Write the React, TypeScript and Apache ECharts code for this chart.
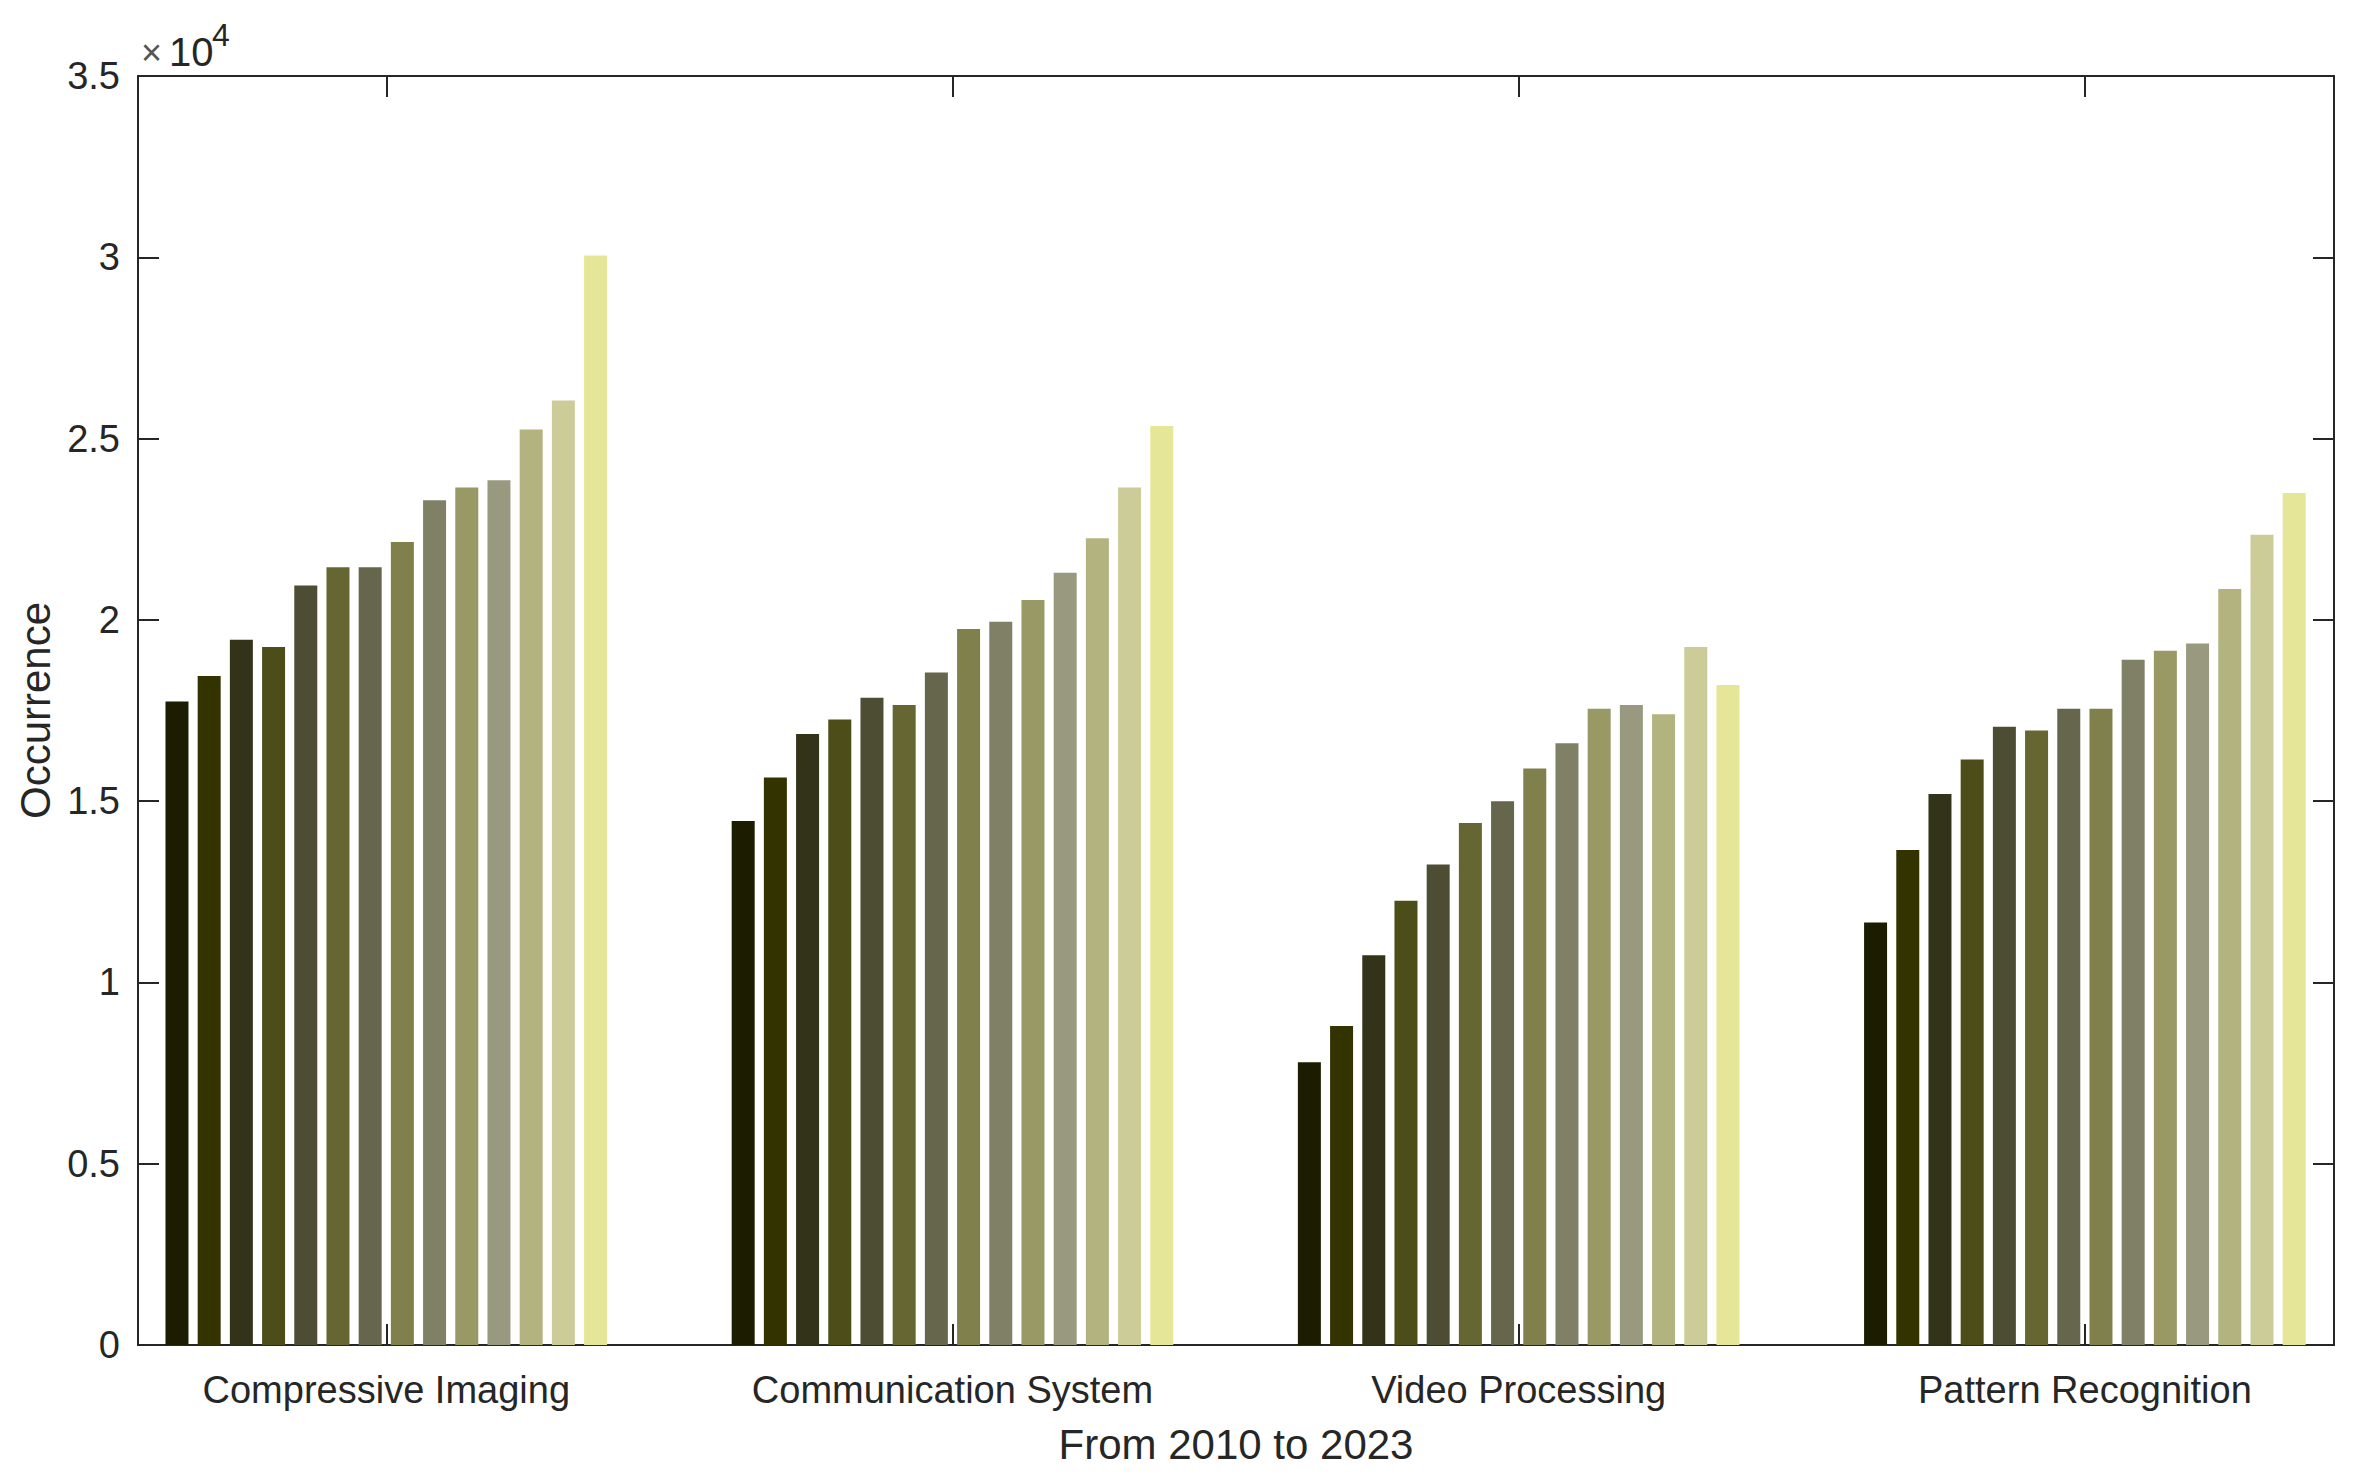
import React, { useEffect, useRef } from "react";
import * as echarts from "echarts";

const categories = ["Compressive Imaging", "Communication System", "Video Processing", "Pattern Recognition"];
const years = ["2010", "2011", "2012", "2013", "2014", "2015", "2016", "2017", "2018", "2019", "2020", "2021", "2022", "2023"];
const compressiveImaging = [17750, 18450, 19450, 19250, 20950, 21450, 21450, 22150, 23300, 23650, 23850, 25250, 26050, 30050];
const communicationSystem = [14450, 15650, 16850, 17250, 17850, 17650, 18550, 19750, 19950, 20550, 21300, 22250, 23650, 25350];
const videoProcessing = [7800, 8800, 10750, 12250, 13250, 14400, 15000, 15900, 16600, 17550, 17650, 17400, 19250, 18200];
const patternRecognition = [11650, 13650, 15200, 16150, 17050, 16950, 17550, 17550, 18900, 19150, 19350, 20850, 22350, 23500];
const colors = ["#1c1c00", "#333300", "#33331a", "#4d4d1a", "#4d4d33", "#666633", "#66664d", "#80804d", "#808066", "#999966", "#99997f", "#b3b380", "#cccc99", "#e6e699"];

const groups = [compressiveImaging, communicationSystem, videoProcessing, patternRecognition];
const FONT = "'Liberation Sans', Arial, Helvetica, sans-serif";
const TXT = "#262626";

export default function App() {
  const ref = useRef<HTMLDivElement>(null);
  useEffect(() => {
    if (!ref.current) return;
    const chart = echarts.init(ref.current, null, { renderer: "svg" });
    const positions = categories.map((_, i) => i + 1);
    const axisLine = { show: true, onZero: false, lineStyle: { color: TXT, width: 2 } };
    const tickStyle = { color: TXT, width: 2 };
    const series = years.map((y, s) => ({
      type: "bar",
      name: y,
      xAxisIndex: 0,
      yAxisIndex: 0,
      barWidth: 23,
      barGap: "40%",
      itemStyle: { color: colors[s] },
      data: positions.map((p, g) => [p, groups[g][s]]),
    }));
    chart.setOption({
      animation: false,
      backgroundColor: "#ffffff",
      textStyle: { fontFamily: FONT },
      grid: { left: 138, right: 27, top: 76, bottom: 137, containLabel: false },
      xAxis: [
        {
          type: "value",
          min: 0.5615,
          max: 4.44,
          position: "bottom",
          axisLine,
          splitLine: { show: false },
          axisTick: { show: true, inside: true, length: 21, customValues: positions, lineStyle: tickStyle },
          axisLabel: {
            show: true,
            customValues: positions,
            formatter: (v: number) => categories[Math.round(v) - 1] ?? "",
            color: TXT,
            fontSize: 38,
            fontFamily: FONT,
            margin: 26,
          },
          name: "From 2010 to 2023",
          nameLocation: "middle",
          nameGap: 78,
          nameTextStyle: { color: TXT, fontSize: 42, fontFamily: FONT },
        },
        {
          type: "value",
          min: 0.5615,
          max: 4.44,
          position: "top",
          axisLine,
          splitLine: { show: false },
          axisTick: { show: true, inside: true, length: 21, customValues: positions, lineStyle: tickStyle },
          axisLabel: { show: false },
        },
      ],
      yAxis: [
        {
          type: "value",
          min: 0,
          max: 35000,
          interval: 5000,
          position: "left",
          axisLine,
          splitLine: { show: false },
          axisTick: { show: true, inside: true, length: 21, lineStyle: tickStyle },
          axisLabel: {
            color: TXT,
            fontSize: 38,
            fontFamily: FONT,
            margin: 18,
            formatter: (v: number) => String(v / 10000),
          },
          name: "Occurrence",
          nameLocation: "middle",
          nameGap: 78,
          nameTextStyle: { color: TXT, fontSize: 42, fontFamily: FONT },
        },
        {
          type: "value",
          min: 0,
          max: 35000,
          interval: 5000,
          position: "right",
          axisLine,
          splitLine: { show: false },
          axisTick: { show: true, inside: true, length: 21, lineStyle: tickStyle },
          axisLabel: { show: false },
        },
      ],
      graphic: [
        {
          type: "text",
          left: 141,
          top: 34,
          style: { text: "×", fontSize: 36, fontFamily: FONT, fill: "#555555" },
        },
        {
          type: "text",
          left: 169,
          top: 32,
          style: { text: "10", fontSize: 40, fontFamily: FONT, fill: TXT },
        },
        {
          type: "text",
          left: 212,
          top: 19,
          style: { text: "4", fontSize: 32, fontFamily: FONT, fill: TXT },
        },
      ],
      series,
    });
    return () => chart.dispose();
  }, []);
  return <div ref={ref} style={{ position: "fixed", left: 0, top: 0, width: 2361, height: 1482 }} />;
}
